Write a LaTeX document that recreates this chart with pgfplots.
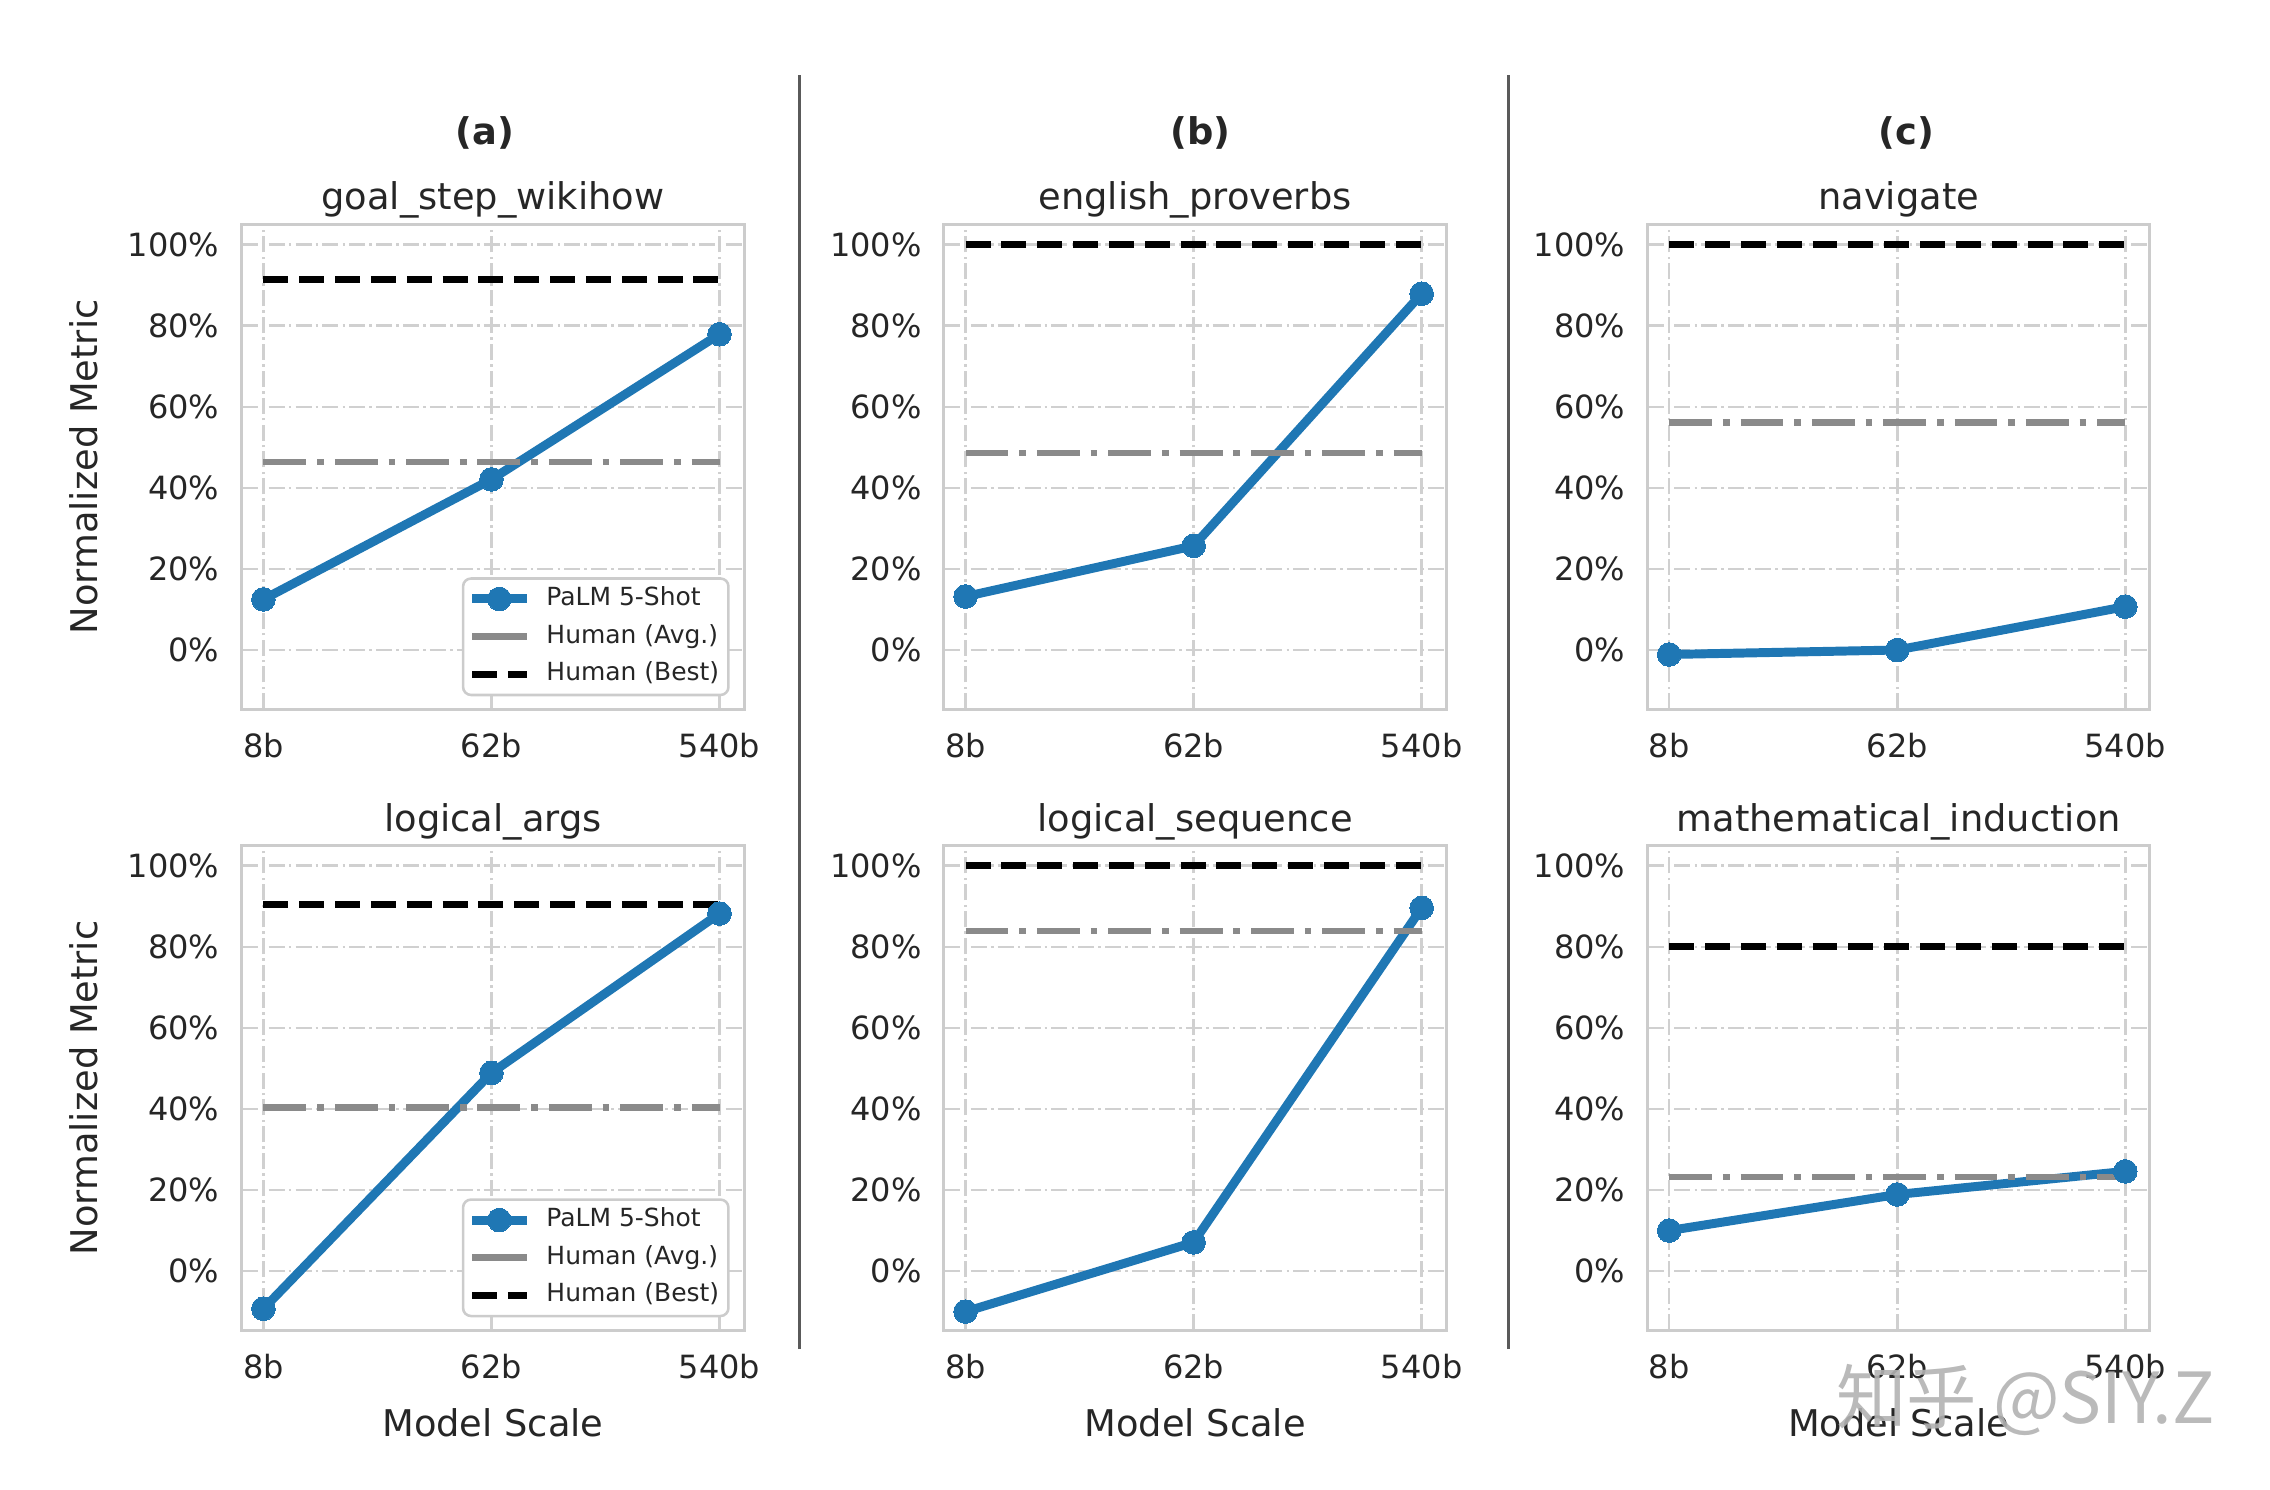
\documentclass[border=0pt]{standalone}
\usepackage{fontspec}
\setmainfont{DejaVu Sans}
\newfontfamily\cjk{Noto Sans CJK SC}
\usepackage{pgfplots}
\pgfplotsset{compat=1.18}
\definecolor{txt}{HTML}{262626}
\definecolor{palm}{HTML}{1F77B4}
\definecolor{havg}{HTML}{8A8A8A}
\definecolor{boxc}{HTML}{CCCCCC}
\definecolor{gridc}{HTML}{D0D0D0}
\definecolor{sepc}{HTML}{5A5A5A}
\pgfplotsset{
 panel/.style={
  scale only axis, width=157pt, height=151.56pt,
  anchor=south west,
  xmin=-0.095, xmax=2.108, ymin=-14.64, ymax=105,
  xtick={0,1,2}, xticklabels={8b,62b,540b},
  ytick={0,20,40,60,80,100}, yticklabels={0\%,20\%,40\%,60\%,80\%,100\%},
  major tick length=0pt,
  grid=major,
  grid style={gridc, line width=0.8pt, dash pattern=on 5pt off 1.3pt on 0.8pt off 1.3pt},
  axis line style={boxc, line width=0.9pt},
  tick label style={font=\fontsize{10}{12}\selectfont, text=txt},
  xticklabel style={yshift=-3.9pt},
  yticklabel style={xshift=-3.45pt},
  title style={at={(axis description cs:0.5,1)}, anchor=base, yshift=-1.5pt, font=\fontsize{11.5}{13}\selectfont, text=txt},
  label style={font=\fontsize{11.5}{13}\selectfont, text=txt},
  ylabel style={at={(axis description cs:-0.314,0.5)}, anchor=center},
  xlabel style={at={(axis description cs:0.5,-0.191)}, anchor=center},
  legend cell align=left,
  legend style={at={(axis description cs:1,0)}, anchor=south east, xshift=-4.5pt, yshift=4.1pt,
    draw=boxc, line width=0.8pt, rounded corners=2.5pt, fill=white,
    font=\fontsize{7.8}{9}\selectfont, text=txt,
    inner xsep=1.4pt, inner ysep=1pt, row sep=1pt,
    nodes={inner sep=1.5pt, text height=5.9pt, text depth=1.9pt},
    /tikz/every odd column/.append style={column sep=3.3pt}},
 },
 palmline/.style={palm, line width=2.8pt, mark=*, mark size=3.7pt, mark options={solid, fill=palm, draw=palm, line width=0pt}},
 avgline/.style={havg, line width=2.1pt, dash pattern=on 13.4pt off 3.4pt on 2.1pt off 3.4pt, legend image post style={solid}},
 bestline/.style={black, line width=2.1pt, dash pattern=on 7.8pt off 3.4pt},
}
\begin{document}
\begin{tikzpicture}
\path[use as bounding box] (0,0) rectangle (709.4pt,465.55pt);
% ---------- (a) top ----------
\begin{axis}[panel, at={(75.55pt,243.86pt)}, title={goal\_step\_wikihow}, ylabel={Normalized Metric}]
\addplot[palmline] coordinates {(0,12.5) (1,42.1) (2,77.9)};
\addlegendentry{PaLM 5-Shot}
\addplot[avgline] coordinates {(0,46.4) (2,46.4)};
\addlegendentry{Human (Avg.)}
\addplot[bestline] coordinates {(0,91.4) (2,91.4)};
\addlegendentry{Human (Best)}
\end{axis}
% ---------- (b) top ----------
\begin{axis}[panel, at={(294.98pt,243.86pt)}, title={english\_proverbs}]
\addplot[palmline] coordinates {(0,13.2) (1,25.7) (2,87.9)};
\addplot[avgline] coordinates {(0,48.6) (2,48.6)};
\addplot[bestline] coordinates {(0,100) (2,100)};
\end{axis}
% ---------- (c) top ----------
\begin{axis}[panel, at={(514.86pt,243.86pt)}, title={navigate}]
\addplot[palmline] coordinates {(0,-1.1) (1,0) (2,10.7)};
\addplot[avgline] coordinates {(0,56.1) (2,56.1)};
\addplot[bestline] coordinates {(0,100) (2,100)};
\end{axis}
% ---------- (a) bottom ----------
\begin{axis}[panel, at={(75.55pt,49.77pt)}, title={logical\_args}, ylabel={Normalized Metric}, xlabel={Model Scale}]
\addplot[palmline] coordinates {(0,-9.3) (1,48.9) (2,88.2)};
\addlegendentry{PaLM 5-Shot}
\addplot[avgline] coordinates {(0,40.4) (2,40.4)};
\addlegendentry{Human (Avg.)}
\addplot[bestline] coordinates {(0,90.4) (2,90.4)};
\addlegendentry{Human (Best)}
\end{axis}
% ---------- (b) bottom ----------
\begin{axis}[panel, at={(294.98pt,49.77pt)}, title={logical\_sequence}, xlabel={Model Scale}]
\addplot[palmline] coordinates {(0,-10) (1,7.1) (2,89.6)};
\addplot[avgline] coordinates {(0,83.9) (2,83.9)};
\addplot[bestline] coordinates {(0,100) (2,100)};
\end{axis}
% ---------- (c) bottom ----------
\begin{axis}[panel, at={(514.86pt,49.77pt)}, title={mathematical\_induction}, xlabel={Model Scale}]
\addplot[palmline] coordinates {(0,10) (1,18.9) (2,24.6)};
\addplot[avgline] coordinates {(0,23.2) (2,23.2)};
\addplot[bestline] coordinates {(0,80) (2,80)};
\end{axis}
% separators and headers
\draw[sepc, line width=1pt] (249.74pt,43.9pt) -- (249.74pt,442pt);
\draw[sepc, line width=1pt] (471.43pt,43.9pt) -- (471.43pt,442pt);
\node[font=\bfseries\fontsize{11.5}{13}\selectfont, text=txt] at (151.6pt,423.9pt) {(a)};
\node[font=\bfseries\fontsize{11.5}{13}\selectfont, text=txt] at (375.1pt,423.9pt) {(b)};
\node[font=\bfseries\fontsize{11.5}{13}\selectfont, text=txt] at (595.8pt,423.9pt) {(c)};
% watermark
\node[font=\cjk\fontsize{22}{24}\selectfont, text=black!30, opacity=0.9] at (633pt,28pt) {知乎 @SIY.Z};
\end{tikzpicture}
\end{document}
